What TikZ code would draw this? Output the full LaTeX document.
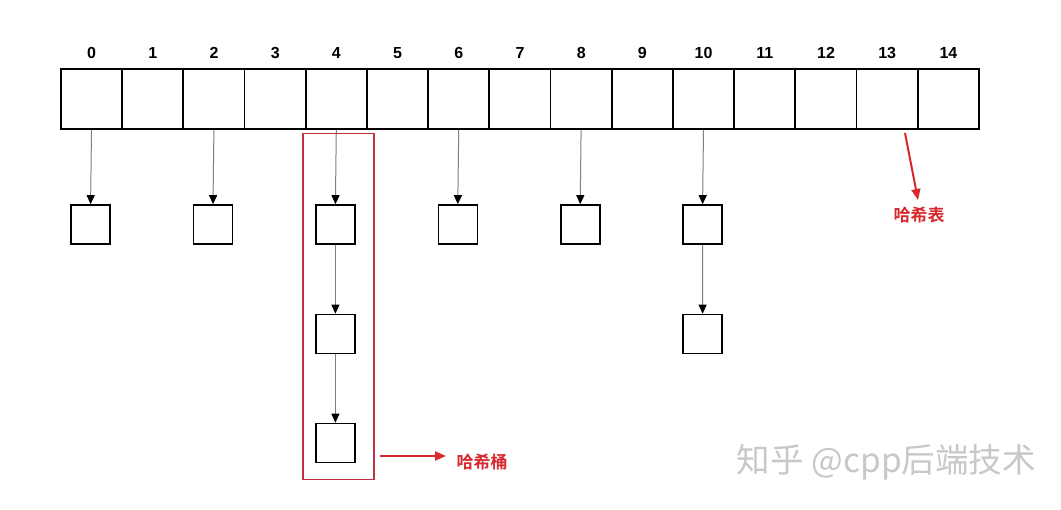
\documentclass[tikz,border=0pt]{standalone}
\usepackage{fontspec}
\setmainfont{Liberation Sans}
\newfontfamily\cjk{Noto Sans CJK SC}
\newfontfamily\cjkb{Noto Sans CJK SC Bold}
\usetikzlibrary{arrows.meta}
\definecolor{hred}{RGB}{215,40,45}
\definecolor{frame}{RGB}{190,50,60}
\definecolor{wm}{RGB}{200,200,200}
\begin{document}
\begin{tikzpicture}[x=1pt,y=-1pt,
  cell/.style={draw,line width=1.8pt,minimum width=61.2pt,minimum height=60pt,inner sep=0,anchor=north west},
  item/.style={draw,line width=1.6pt,minimum width=39pt,minimum height=39pt,inner sep=0},
  idx/.style={font=\bfseries\fontsize{16}{16}\selectfont},
  link/.style={draw=gray,line width=1pt,-{Triangle[black,length=9pt,width=8pt]}},
  redlbl/.style={text=hred,font=\cjkb\fontsize{17}{17}\selectfont},
  redarrow/.style={draw=hred,line width=2pt,-{Triangle[hred,length=11pt,width=9pt]}}]
\useasboundingbox[fill=white] (0,0) rectangle (1061,510);
\foreach \i in {0,...,14}{
  \node[cell] (cell\i) at ({60+61.2*\i},68) {};
  \node[idx] (lab\i) at ({91.6+61.2*\i},53) {\i};
}
\foreach \i/\n in {0/a,2/b,4/c,6/d,8/e,10/f}{
  \node[item] (\n1) at ({90.6+61.2*\i},224.5) {};
  \draw[link] (cell\i.south) -- (\n1.north);
}
\node[item] (c2) at (335.4,334) {};
\node[item] (c3) at (335.4,443) {};
\node[item] (f2) at (702.6,334) {};
\draw[link] (c1.south) -- (c2.north);
\draw[link] (c2.south) -- (c3.north);
\draw[link] (f1.south) -- (f2.north);
\node[draw=frame,line width=1.5pt,minimum width=71pt,minimum height=346pt,inner sep=0,anchor=north west] (bucket) at (302,133) {};
\coordinate (ta) at (905,133);
\coordinate (tb) at (918,200);
\node[redlbl] (tbl) at (919,215) {哈希表};
\draw[redarrow] (ta) -- (tb);
\node[redlbl,anchor=west] (bkt) at (453,462) {哈希桶};
\coordinate (ba) at (380,456);
\coordinate (bb) at (446,456);
\draw[redarrow] (ba) -- (bb);
\node[text=wm,font=\cjk\fontsize{33.5}{33.5}\selectfont,anchor=east,inner sep=0] (wmk) at (1036,462) {知乎 @cpp后端技术};
\end{tikzpicture}
\end{document}
